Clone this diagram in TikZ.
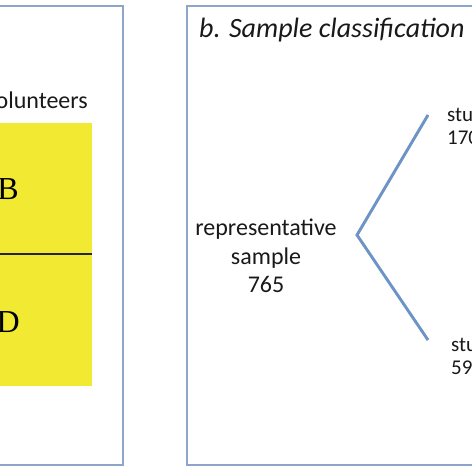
\documentclass[tikz,border=0pt]{standalone}
\usepackage{fontspec}
\setmainfont{Carlito}
\newfontfamily\serifB{Liberation Serif}
\usetikzlibrary{positioning}
\definecolor{panelBlue}{RGB}{140, 165, 200}
\definecolor{forkBlue}{RGB}{108, 148, 200}
\definecolor{boxYellow}{RGB}{242, 234, 50}

\begin{document}
\begin{tikzpicture}[x=1pt,y=-1pt,
    panel/.style={draw=panelBlue, line width=1.4pt},
    lbl/.style={font=\fontsize{24}{28.5}\selectfont, text=black!90, inner sep=0pt},
    small/.style={font=\fontsize{21}{23.5}\selectfont, text=black!90, inner sep=0pt},
    letter/.style={font=\serifB\fontsize{32}{36}\selectfont, inner sep=0pt, anchor=east}]
    \useasboundingbox (0,0) rectangle (472,472);
    \clip (0,0) rectangle (472,472);

    % panel a (cut off at the left)
    \draw[panel] (-200,6) rectangle (123,465);
    \node[lbl, anchor=east] (vol) at (88,100) {Volunteers};
    \fill[boxYellow] (-200,123) rectangle (92,386);
    \draw[black!85, line width=1.3pt] (-200,254) -- (92,254);
    \node[letter] (cellB) at (19,189) {B};
    \node[letter] (cellD) at (20,322) {D};

    % panel b
    \draw[panel] (187,6) rectangle (700,465);
    \node[lbl, anchor=west, font=\itshape\fontsize{28}{32}\selectfont] (title) at (199,30)
        {b. Sample classification};
    \node[lbl, align=center] (rep) at (266,256)
        {representative\\ sample\\ 765};
    \node[small, align=left, anchor=west] (stud) at (447,126) {students\\ 170};
    \node[small, align=left, anchor=west] (nonstud) at (451,356) {students\\ 595};

    \coordinate (fork) at (357,235);
    \coordinate (upEnd) at (428,115);
    \coordinate (lowEnd) at (428,340);
    \draw[black!20, line width=2.8pt, shift={(1.5,1.5)}] (upEnd) -- (fork) -- (lowEnd);
    \draw[forkBlue, line width=2.8pt] (upEnd) -- (fork) -- (lowEnd);
\end{tikzpicture}
\end{document}
